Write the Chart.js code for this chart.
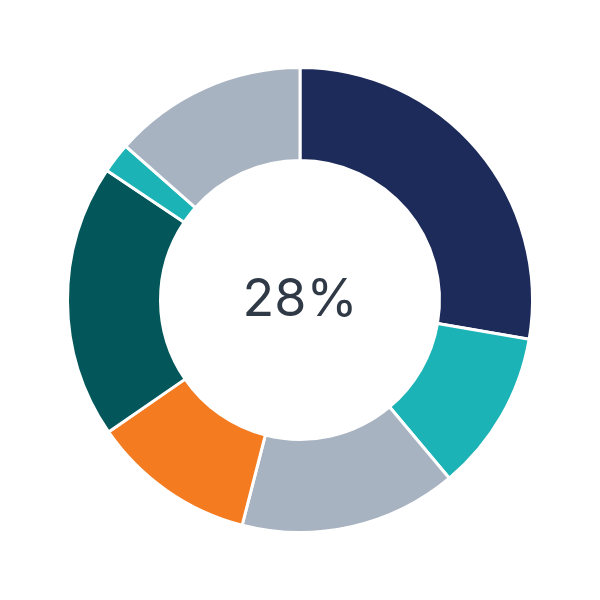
<!DOCTYPE html>
<html>
<head>
<meta charset="utf-8">
<script src="https://cdn.jsdelivr.net/npm/chart.js@4"></script>
<style>
  html, body { margin: 0; padding: 0; background: #fff; }
  #wrap { width: 600px; height: 600px; position: relative; }
</style>
</head>
<body>
<div id="wrap"><canvas id="chartDona"></canvas></div>
<script>
const categorias = ['A', 'B', 'C', 'D', 'E', 'F', 'G']
const valores = [27.7, 11.2, 15.1, 11.4, 19.0, 2.1, 13.5]
const colores = ['#1c2b5a', '#1bb3b5', '#a8b3c2', '#f47b20', '#03575a', '#1bb3b5', '#a8b3c2']
const textoCentro = '28%'

const context = document.getElementById('chartDona').getContext('2d')

// texto en el centro de la dona
const centroPlugin = {
    id : 'centro',
    afterDraw(chart) {
        const { ctx, chartArea } = chart
        const x = (chartArea.left + chartArea.right) / 2
        const y = (chartArea.top + chartArea.bottom) / 2
        ctx.save()
        ctx.font = '400 52px Inter, "Open Sans", sans-serif'
        ctx.fillStyle = '#2f3a46'
        ctx.textAlign = 'center'
        ctx.textBaseline = 'middle'
        ctx.fillText(textoCentro, x, y)
        ctx.restore()
    }
}

const chartDona = new Chart(context, {
    type : 'doughnut',
    data : {
        labels : categorias,
        datasets : [
            {
                data : valores,
                backgroundColor : colores,
                borderColor : '#ffffff',
                borderWidth : 3
            }
        ]
    },
    options : {
        responsive : true,
        maintainAspectRatio : false,
        animation : false,
        cutout : '60%',
        layout : { padding : 66 },
        plugins : {
            legend : { display : false },
            tooltip : { enabled : false }
        }
    },
    plugins : [centroPlugin]
})
</script>
</body>
</html>
